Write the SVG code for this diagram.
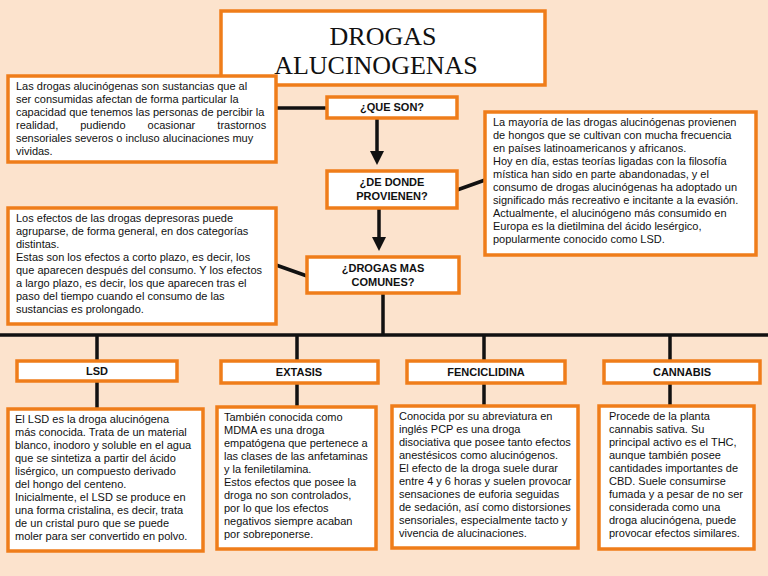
<svg xmlns="http://www.w3.org/2000/svg" width="768" height="576" viewBox="0 0 768 576">
<style>
.b{fill:#fff;stroke:#ef7d1a;stroke-width:3.5}
.t{font-family:"Liberation Sans",Arial,sans-serif;font-size:11px;fill:#111}
.h{font-family:"Liberation Sans",Arial,sans-serif;font-size:11px;font-weight:bold;fill:#111;text-anchor:middle}
.c{stroke:#111;stroke-width:3.5;fill:none}
</style>
<defs><marker id="a" markerWidth="4" markerHeight="4" refX="2" refY="2" orient="auto"><path d="M0,0L4,2L0,4z" fill="#111"/></marker></defs>
<rect width="768" height="576" fill="#fce3cd"/>
<g id="connectors">
<path class="c" d="M276,108H327M457,190L485,180M276,265L307,276"/>
<path class="c" d="M377,118V158" marker-end="url(#a)"/>
<path class="c" d="M379,208V244" marker-end="url(#a)"/>
<path class="c" d="M383,293V335M0,335H768M97,335V361M297,335V361M484,335V361M670,335V361M297,383V407M484,383V406M97,381V409M670,383V406"/>
</g>
<g id="title"><rect class="b" x="221" y="11" width="324" height="74"/>
<text x="383" y="45" text-anchor="middle" font-family="Liberation Serif,serif" font-size="26" fill="#111">DROGAS</text>
<text x="376" y="74" text-anchor="middle" font-family="Liberation Serif,serif" font-size="26" fill="#111">ALUCINOGENAS</text></g>
<g id="def"><rect class="b" x="8" y="76" width="268" height="86"/>
<text class="t"><tspan x="16" y="90">Las drogas alucinógenas son sustancias que al</tspan><tspan x="16" y="103">ser consumidas afectan de forma particular la</tspan><tspan x="16" y="116">capacidad que tenemos las personas de percibir la</tspan><tspan x="16" y="129" word-spacing="19">realidad, pudiendo ocasionar trastornos</tspan><tspan x="16" y="142">sensoriales severos o incluso alucinaciones muy</tspan><tspan x="16" y="155">vividas.</tspan></text></g>
<g id="queson"><rect class="b" x="327" y="97" width="130" height="21"/><text class="h" x="392" y="111">¿QUE SON?</text></g>
<g id="donde"><rect class="b" x="327" y="171" width="130" height="37"/><text class="h" x="392" y="186">¿DE DONDE</text><text class="h" x="392" y="200">PROVIENEN?</text></g>
<g id="comunes"><rect class="b" x="307" y="257" width="152" height="36"/><text class="h" x="383" y="272">¿DROGAS MAS</text><text class="h" x="383" y="286">COMUNES?</text></g>
<g id="origen"><rect class="b" x="485" y="112" width="271" height="143"/>
<text class="t"><tspan x="493" y="126">La mayoría de las drogas alucinógenas provienen</tspan><tspan x="493" y="139">de hongos que se cultivan con mucha frecuencia</tspan><tspan x="493" y="152">en países latinoamericanos y africanos.</tspan><tspan x="493" y="165">Hoy en día, estas teorías ligadas con la filosofía</tspan><tspan x="493" y="178">mística han sido en parte abandonadas, y el</tspan><tspan x="493" y="191">consumo de drogas alucinógenas ha adoptado un</tspan><tspan x="493" y="204">significado más recreativo e incitante a la evasión.</tspan><tspan x="493" y="217">Actualmente, el alucinógeno más consumido en</tspan><tspan x="493" y="230">Europa es la dietilmina del ácido lesérgico,</tspan><tspan x="493" y="243">popularmente conocido como LSD.</tspan></text></g>
<g id="efectos"><rect class="b" x="8" y="208" width="268" height="116"/>
<text class="t"><tspan x="16" y="222">Los efectos de las drogas depresoras puede</tspan><tspan x="16" y="235">agruparse, de forma general, en dos categorías</tspan><tspan x="16" y="248">distintas.</tspan><tspan x="16" y="261">Estas son los efectos a corto plazo, es decir, los</tspan><tspan x="16" y="274">que aparecen después del consumo. Y los efectos</tspan><tspan x="16" y="287">a largo plazo, es decir, los que aparecen tras el</tspan><tspan x="16" y="300">paso del tiempo cuando el consumo de las</tspan><tspan x="16" y="313">sustancias es prolongado.</tspan></text></g>
<g id="lsd"><rect class="b" x="17" y="361" width="160" height="20"/><text class="h" x="97" y="375">LSD</text>
<rect class="b" x="8" y="409" width="195" height="142"/>
<text class="t"><tspan x="15" y="423">El LSD es la droga alucinógena</tspan><tspan x="15" y="436">más conocida. Trata de un material</tspan><tspan x="15" y="449">blanco, inodoro y soluble en el agua</tspan><tspan x="15" y="462">que se sintetiza a partir del ácido</tspan><tspan x="15" y="475">lisérgico, un compuesto derivado</tspan><tspan x="15" y="488">del hongo del centeno.</tspan><tspan x="15" y="501">Inicialmente, el LSD se produce en</tspan><tspan x="15" y="514">una forma cristalina, es decir, trata</tspan><tspan x="15" y="527">de un cristal puro que se puede</tspan><tspan x="15" y="540">moler para ser convertido en polvo.</tspan></text></g>
<g id="extasis"><rect class="b" x="221" y="361" width="157" height="22"/><text class="h" x="299" y="376">EXTASIS</text>
<rect class="b" x="217" y="407" width="159" height="142"/>
<text class="t"><tspan x="224" y="421">También conocida como</tspan><tspan x="224" y="434">MDMA es una droga</tspan><tspan x="224" y="447">empatógena que pertenece a</tspan><tspan x="224" y="460">las clases de las anfetaminas</tspan><tspan x="224" y="473">y la feniletilamina.</tspan><tspan x="224" y="486">Estos efectos que posee la</tspan><tspan x="224" y="499">droga no son controlados,</tspan><tspan x="224" y="512">por lo que los efectos</tspan><tspan x="224" y="525">negativos siempre acaban</tspan><tspan x="224" y="538">por sobreponerse.</tspan></text></g>
<g id="fenciclidina"><rect class="b" x="407" y="361" width="158" height="22"/><text class="h" x="486" y="376">FENCICLIDINA</text>
<rect class="b" x="392" y="406" width="186" height="142"/>
<text class="t"><tspan x="399" y="420">Conocida por su abreviatura en</tspan><tspan x="399" y="433">inglés PCP es una droga</tspan><tspan x="399" y="446">disociativa que posee tanto efectos</tspan><tspan x="399" y="459">anestésicos como alucinógenos.</tspan><tspan x="399" y="472">El efecto de la droga suele durar</tspan><tspan x="399" y="485">entre 4 y 6 horas y suelen provocar</tspan><tspan x="399" y="498">sensaciones de euforia seguidas</tspan><tspan x="399" y="511">de sedación, así como distorsiones</tspan><tspan x="399" y="524">sensoriales, especialmente tacto y</tspan><tspan x="399" y="537">vivencia de alucinaciones.</tspan></text></g>
<g id="cannabis"><rect class="b" x="604" y="361" width="156" height="22"/><text class="h" x="682" y="376">CANNABIS</text>
<rect class="b" x="599" y="406" width="155" height="143"/>
<text class="t"><tspan x="609" y="420">Procede de la planta</tspan><tspan x="609" y="433">cannabis sativa. Su</tspan><tspan x="609" y="446">principal activo es el THC,</tspan><tspan x="609" y="459">aunque también posee</tspan><tspan x="609" y="472">cantidades importantes de</tspan><tspan x="609" y="485">CBD. Suele consumirse</tspan><tspan x="609" y="498">fumada y a pesar de no ser</tspan><tspan x="609" y="511">considerada como una</tspan><tspan x="609" y="524">droga alucinógena, puede</tspan><tspan x="609" y="537">provocar efectos similares.</tspan></text></g>
</svg>
